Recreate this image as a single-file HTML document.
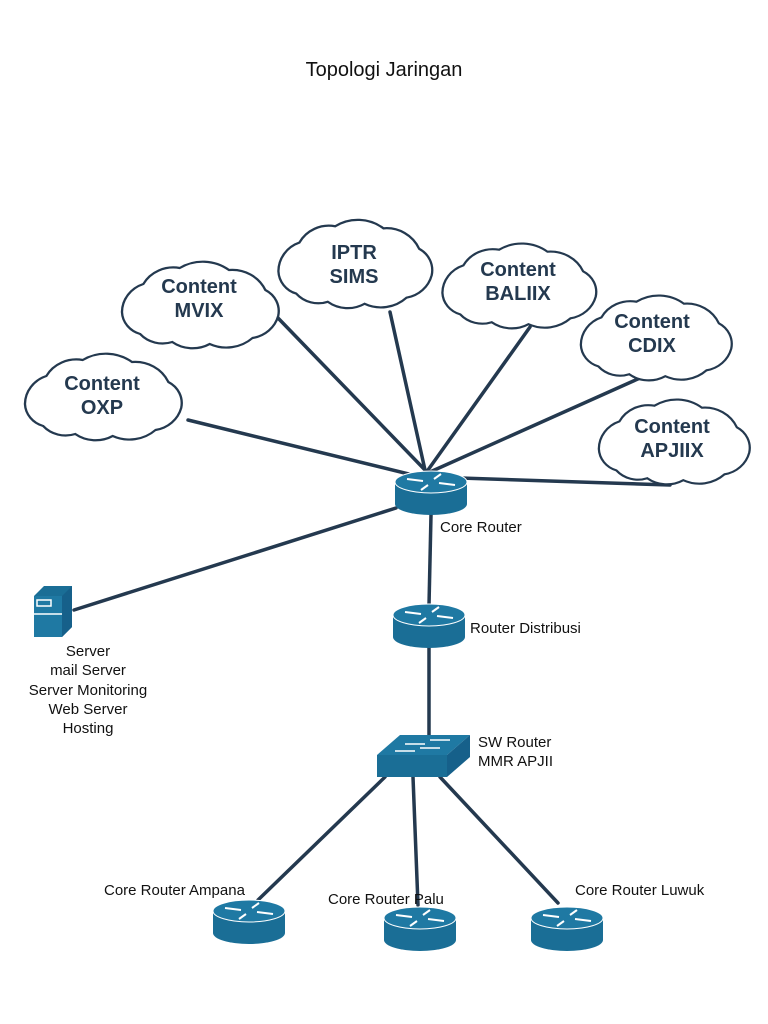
<!DOCTYPE html>
<html><head><meta charset="utf-8"><style>
html,body{margin:0;padding:0;background:#fff}
body{position:relative;width:768px;height:1024px;overflow:hidden}
svg{display:block;position:absolute;left:0;top:0}
text{font-family:"Liberation Sans",sans-serif}
.c{position:absolute;width:160px;text-align:center;font:bold 20px/24px "Liberation Sans",sans-serif;color:#24394f}
</style></head><body>
<svg width="768" height="1024" viewBox="0 0 768 1024" xmlns="http://www.w3.org/2000/svg">
<defs>
<path id="cloud" d="M-55,30 A24,24 0 0 1 -72,8 A30,30 0 0 1 -52,-20 A32,32 0 0 1 -18,-36 A40,40 0 0 1 28,-34 A34,34 0 0 1 62,-14 A24,24 0 0 1 74,12 A30,30 0 0 1 50,34 A36,36 0 0 1 10,40 A32,32 0 0 1 -25,38 A28,28 0 0 1 -55,30 Z" fill="#fff" stroke="#24394f" stroke-width="2.2"/>
<g id="router">
<path d="M-36 0 V22 A36 11 0 0 0 36 22 V0 Z" fill="#1a6e96"/>
<ellipse cx="0" cy="0" rx="36" ry="11" fill="#1f79a3" stroke="#fff" stroke-width="1"/>
<g stroke="#fff" stroke-width="2">
<line x1="-24" y1="-3" x2="-8" y2="-1"/><line x1="24" y1="3" x2="8" y2="1"/>
<line x1="10" y1="-8" x2="3" y2="-3"/><line x1="-10" y1="8" x2="-3" y2="3"/>
</g>
</g>
</defs>
<text x="384" y="76" font-size="20" text-anchor="middle" fill="#111">Topologi Jaringan</text>
<g stroke="#24394f" stroke-width="3.5" stroke-linecap="round">
<line x1="188" y1="420" x2="425" y2="478"/>
<line x1="278" y1="318" x2="425" y2="470"/>
<line x1="390" y1="312" x2="425" y2="470"/>
<line x1="530" y1="327" x2="428" y2="470"/>
<line x1="640" y1="378" x2="430" y2="472"/>
<line x1="670" y1="485" x2="460" y2="478"/>
<line x1="74" y1="610" x2="396" y2="508"/>
<line x1="431" y1="515" x2="429" y2="605"/>
<line x1="429" y1="648" x2="429" y2="735"/>
<line x1="385" y1="777" x2="258" y2="900"/>
<line x1="413" y1="777" x2="418" y2="905"/>
<line x1="440" y1="777" x2="558" y2="903"/>
</g>
<use href="#cloud" transform="translate(102,396) scale(1.07,1)"/>
<use href="#cloud" transform="translate(199,304) scale(1.07,1)"/>
<use href="#cloud" transform="translate(354,263) scale(1.05,1.02)"/>
<use href="#cloud" transform="translate(518,285) scale(1.05,0.98)"/>
<use href="#cloud" transform="translate(655,337) scale(1.03,0.98)"/>
<use href="#cloud" transform="translate(673,441) scale(1.03,0.98)"/>
<use href="#router" transform="translate(431,482)"/>
<use href="#router" transform="translate(429,615)"/>
<use href="#router" transform="translate(249,911)"/>
<use href="#router" transform="translate(420,918)"/>
<use href="#router" transform="translate(567,918)"/>
<polygon points="377,755 400,735 470,735 447,755" fill="#1f79a3"/>
<rect x="377" y="755" width="70" height="22" fill="#1a6e96"/>
<polygon points="447,755 470,735 470,757 447,777" fill="#16608a"/>
<g stroke="#fff" stroke-width="1.5"><line x1="405" y1="744" x2="425" y2="744"/><line x1="430" y1="740" x2="450" y2="740"/><line x1="395" y1="751" x2="415" y2="751"/><line x1="420" y1="748" x2="440" y2="748"/></g>
<polygon points="34,596 44,586 72,586 72,627 62,637 34,637" fill="#1a6e96"/>
<polygon points="62,596 72,586 72,627 62,637" fill="#16608a"/>
<rect x="34" y="596" width="28" height="41" fill="#1f79a3"/>
<rect x="37" y="600" width="14" height="6" fill="none" stroke="#fff" stroke-width="1.5"/>
<line x1="34" y1="614" x2="62" y2="614" stroke="#fff" stroke-width="1.5"/>
<g font-size="15" fill="#111">
<text x="440" y="532">Core Router</text>
<text x="470" y="633">Router Distribusi</text>
<text x="478" y="747">SW Router</text>
<text x="478" y="766">MMR APJII</text>
<text x="104" y="895">Core Router Ampana</text>
<text x="328" y="904">Core Router Palu</text>
<text x="575" y="895">Core Router Luwuk</text>
<g text-anchor="middle">
<text x="88" y="656">Server</text><text x="88" y="675">mail Server</text><text x="88" y="695">Server Monitoring</text><text x="88" y="714">Web Server</text><text x="88" y="733">Hosting</text>
</g>
</g>
</svg>
<div class="c" style="left:22px;top:372px">Content<br>OXP</div>
<div class="c" style="left:119px;top:275px">Content<br>MVIX</div>
<div class="c" style="left:274px;top:241px">IPTR<br>SIMS</div>
<div class="c" style="left:438px;top:258px">Content<br>BALIIX</div>
<div class="c" style="left:572px;top:310px">Content<br>CDIX</div>
<div class="c" style="left:592px;top:415px">Content<br>APJIIX</div>
</body></html>
